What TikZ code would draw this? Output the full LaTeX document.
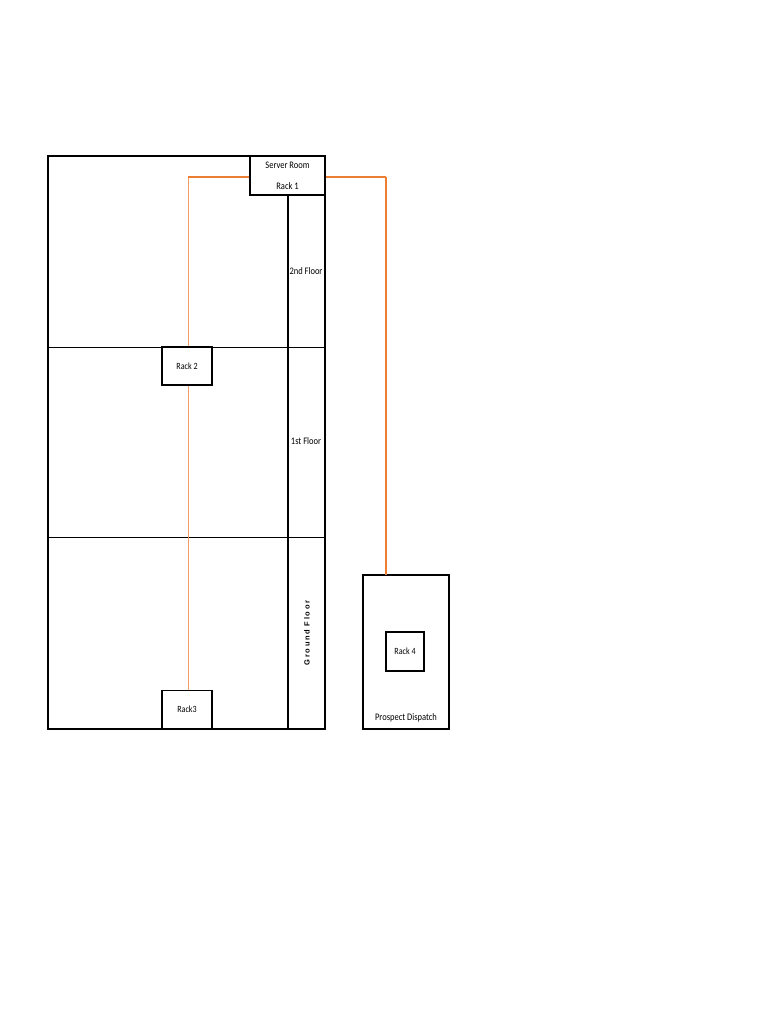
\documentclass[tikz,border=0pt]{standalone}
\usepackage{fontspec}
\setmainfont{Carlito}
\newfontfamily\spacedfont[LetterSpace=22]{Liberation Sans}
\definecolor{cable}{RGB}{237,125,49}

\begin{document}
\begin{tikzpicture}[x=1pt,y=-1pt]
\tikzstyle{every node}+=[inner sep=0pt]
\tikzstyle{wall}=[black, line width=1.6pt]
\tikzstyle{floorline}=[black, line width=1pt]
\tikzstyle{rackbox}=[draw=black, line width=1.5pt, fill=white, minimum width=50pt, minimum height=38pt, font=\fontsize{9.5}{10}\selectfont]
\tikzstyle{lbl}=[font=\fontsize{10}{11}\selectfont, xscale=0.85]
\tikzstyle{trunk}=[cable, line width=1.8pt]
\tikzstyle{drop}=[cable!75, line width=0.9pt]
\useasboundingbox (0,0) rectangle (768,1024);
% building outline
\draw [wall] (48,156) rectangle (325,729);
\draw [floorline] (48,347) -- (325,347);
\draw [floorline] (48,537) -- (325,537);
\draw [wall] (288,195) -- (288,729);
% floor labels
\node [lbl] (f2) at (306,271) {2nd Floor};
\node [lbl] (f1) at (306,441) {1st Floor};
\node [rotate=90, font=\fontsize{7.5}{8}\spacedfont\bfseries] (f0) at (307,633) {Ground Floor};
% prospect dispatch building
\draw [wall] (363,575) rectangle (449,729);
\node [lbl] (pd) at (406,718) {Prospect Dispatch};
% racks
\node [rackbox, minimum width=75pt, minimum height=39pt] (r1) at (287.5,175.5) {};
\node [lbl] at (287.5,165) {Server Room};
\node [lbl] at (287.5,186) {Rack 1};
\coordinate (tap) at (188,177);
\coordinate (bend) at (386,177);
\coordinate (pdtop) at (386,575);
\draw [drop] (tap) -- (188,690);
\draw [trunk] (tap) -- (r1.west |- tap);
\draw [trunk] (r1.east |- bend) -- (bend);
\draw [cable, line width=1.2pt] (bend) -- (pdtop);
\node [rackbox] (r2) at (187,366) {\scalebox{0.85}[1]{Rack 2}};
\node [rackbox] (r3) at (187,709.5) {\scalebox{0.85}[1]{Rack3}};
\node [rackbox, minimum width=38pt, minimum height=39pt] (r4) at (405,651.5) {\scalebox{0.85}[1]{Rack 4}};
\end{tikzpicture}
\end{document}
